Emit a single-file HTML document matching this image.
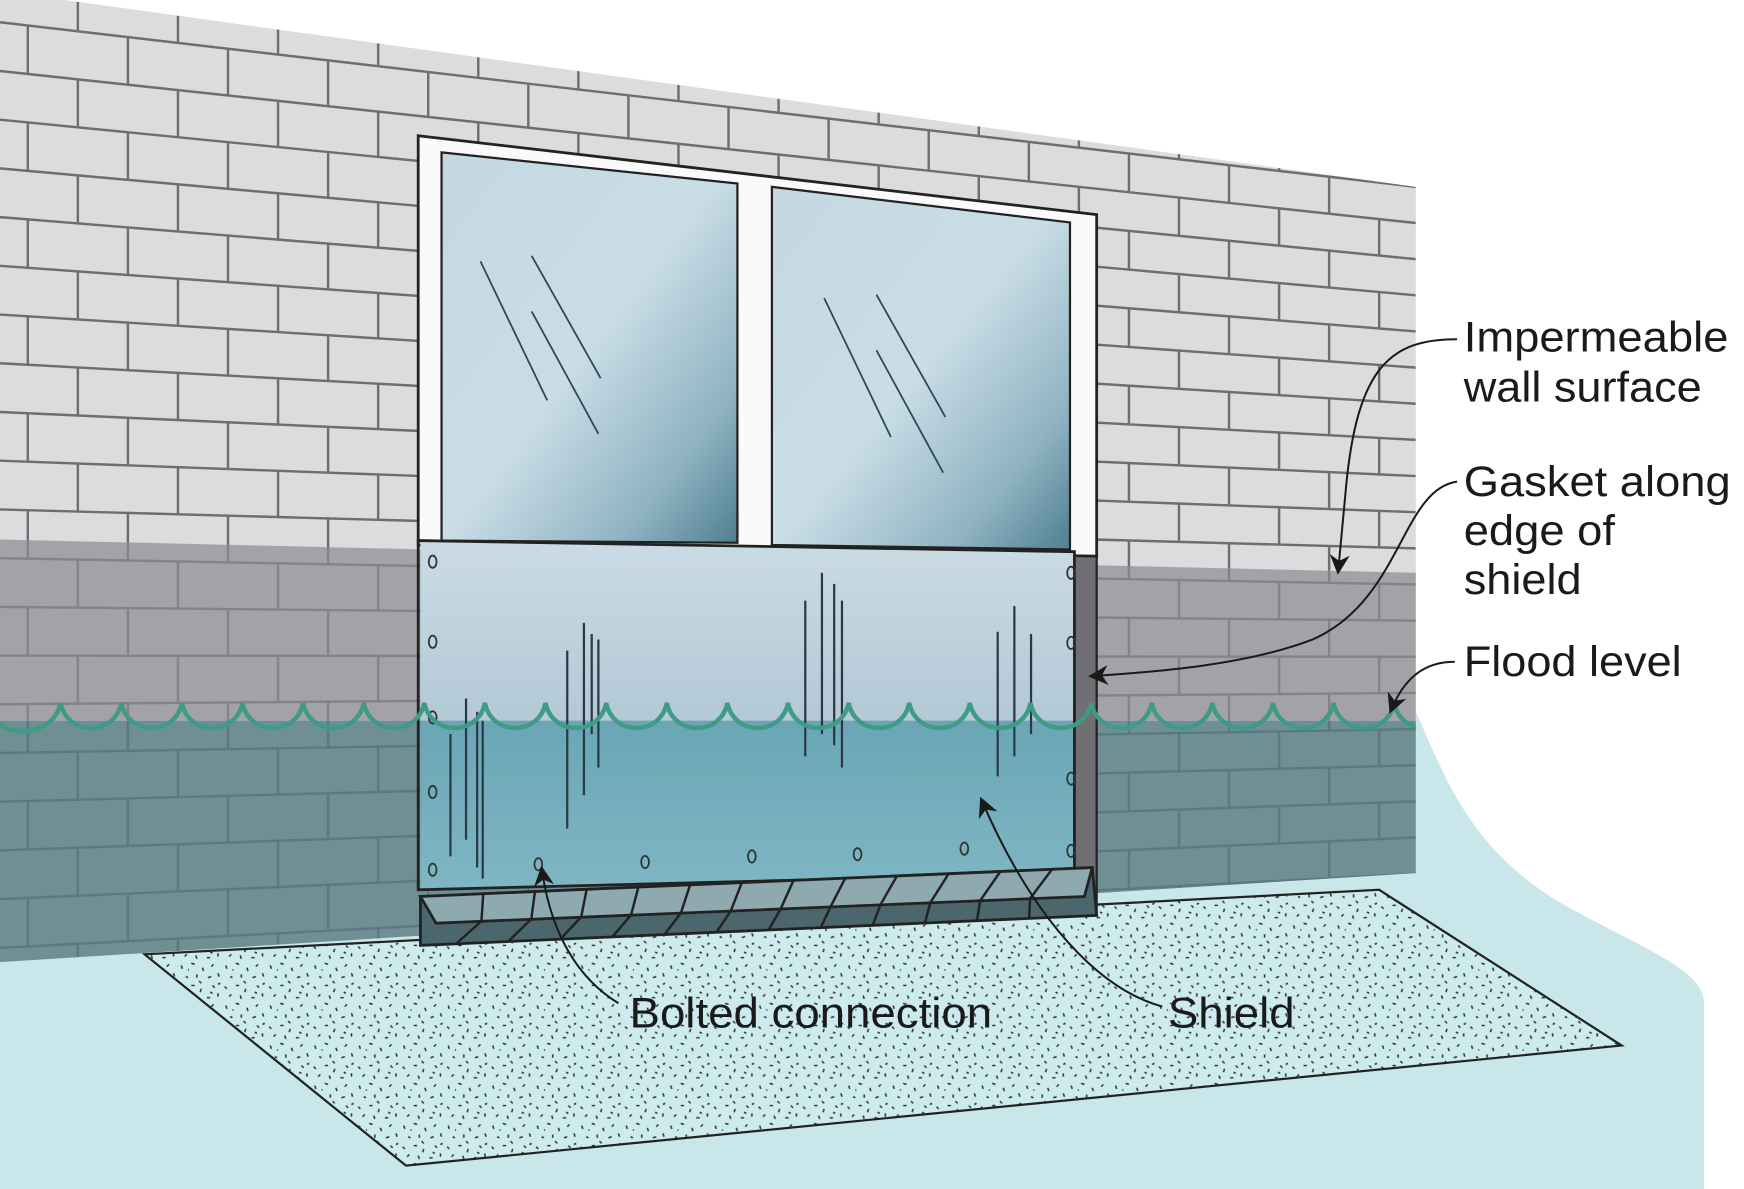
<!DOCTYPE html>
<html><head><meta charset="utf-8"><style>
html,body{margin:0;padding:0;background:#fff;}
svg{display:block}
text{font-family:"Liberation Sans",sans-serif;fill:#1a1a1a}
</style></head><body>
<svg id="s" width="1744" height="1189" viewBox="0 0 1568 1069" preserveAspectRatio="none" xmlns="http://www.w3.org/2000/svg">
<defs>
<clipPath id="wall"><polygon points="0,-8 1273,168 1273,785 0,865"/></clipPath>
<clipPath id="up"><polygon points="0,-8 1273,168 1273,515 0,485"/></clipPath>
<clipPath id="mid"><polygon points="0,485 1273,515 1273,648 0,648"/></clipPath>
<clipPath id="low"><polygon points="0,648 1273,648 1273,785 0,865"/></clipPath>
<clipPath id="flc"><rect x="0" y="600" width="1273" height="80"/></clipPath>
<linearGradient id="pane" x1="0" y1="0" x2="1" y2="1">
<stop offset="0" stop-color="#c5d8e2"/><stop offset="0.5" stop-color="#c9dde6"/><stop offset="0.8" stop-color="#8fb3c2"/><stop offset="1" stop-color="#4f7f90"/></linearGradient>
<linearGradient id="sh" x1="0" y1="0" x2="0" y2="1">
<stop offset="0" stop-color="#cbdbe6"/><stop offset="1" stop-color="#b3c9d6"/></linearGradient>
<linearGradient id="shw" x1="0" y1="0" x2="0" y2="1">
<stop offset="0" stop-color="#6aa6b6"/><stop offset="1" stop-color="#7fb6c4"/></linearGradient>
<pattern id="spk" width="40" height="36" patternUnits="userSpaceOnUse">
<rect width="40" height="36" fill="#cdeaec"/>
<g stroke="#333" stroke-width="1.4">
<path d="M3 4l1 3M12 2l3 1M22 6l1 3M32 3l-2 2M7 14l2 1M17 12l0 3M27 15l3 -1M36 11l1 3M2 23l2 2M12 22l3 0M21 25l-1 3M31 22l2 2M6 32l2 -2M16 31l1 3M26 33l3 0M36 29l0 3M9 8l1 0M29 28l2 1M19 18l2 2M38 20l-2 1"/></g></pattern>
<marker id="ah" viewBox="0 0 10 10" refX="9" refY="5" markerWidth="22" markerHeight="18" orient="auto-start-reverse" markerUnits="userSpaceOnUse"><path d="M0,0 L10,5 L0,10 L3,5z" fill="#1a1a1a"/></marker>
</defs>
<!-- ground -->
<path d="M0,860 L1273,780 L1273,640 C1300,700 1320,760 1400,810 C1470,850 1530,870 1532,900 L1532,1069 L0,1069Z" fill="#c9e7ea"/>
<!-- gravel pad -->
<polygon points="130,858 1240,800 1458,940 365,1048" fill="url(#spk)" stroke="#222" stroke-width="2"/>
<!-- wall fills -->
<g clip-path="url(#wall)">
<rect x="0" y="-10" width="1280" height="900" fill="#dcdcde"/>
<polygon points="0,485 1273,515 1273,648 0,648" fill="#a3a3a7"/>
<rect x="0" y="648" width="1280" height="240" fill="#6f8f95"/>
<g id="bu" clip-path="url(#up)" stroke="#6e6e72" stroke-width="2.2" fill="none"></g>
<g id="bm" clip-path="url(#mid)" stroke="#848488" stroke-width="2.2" fill="none"></g>
<g id="bl" clip-path="url(#low)" stroke="#587a80" stroke-width="2.2" fill="none"></g>
</g>
<!-- right dark strip -->
<polygon points="966,193 986,193 986,820 966,820" fill="#6f6f74" stroke="#222" stroke-width="2"/>
<!-- window frame -->
<polygon points="376,122 986,193 986,500 376,490" fill="#fafafa" stroke="#222" stroke-width="2.5"/>
<polygon points="397,137 663,165 663,488 397,486" fill="url(#pane)" stroke="#222" stroke-width="2"/>
<polygon points="694,168 962,200 962,494 694,490" fill="url(#pane)" stroke="#222" stroke-width="2"/>
<g stroke="#2a4a5a" stroke-width="1.6">
<line x1="432" y1="235" x2="492" y2="360"/><line x1="478" y1="230" x2="540" y2="340"/><line x1="478" y1="280" x2="538" y2="390"/>
<line x1="741" y1="268" x2="801" y2="393"/><line x1="788" y1="265" x2="850" y2="375"/><line x1="788" y1="315" x2="848" y2="425"/>
</g>
<!-- shield -->
<polygon points="378,486 966,496 966,648 378,648" fill="url(#sh)"/>
<polygon points="378,648 966,648 966,785 378,800" fill="url(#shw)"/>
<polygon points="376,486 966,496 966,785 376,800" fill="none" stroke="#222" stroke-width="2.5"/>
<g stroke="#2a3a44" stroke-width="2">
<line x1="419" y1="628" x2="419" y2="755"/><line x1="405" y1="660" x2="405" y2="770"/><line x1="429" y1="640" x2="429" y2="780"/><line x1="434" y1="648" x2="434" y2="790"/>
<line x1="510" y1="585" x2="510" y2="745"/><line x1="525" y1="560" x2="525" y2="715"/><line x1="532" y1="570" x2="532" y2="660"/><line x1="538" y1="575" x2="538" y2="690"/>
<line x1="724" y1="540" x2="724" y2="680"/><line x1="739" y1="515" x2="739" y2="660"/><line x1="750" y1="525" x2="750" y2="670"/><line x1="757" y1="540" x2="757" y2="690"/>
<line x1="897" y1="568" x2="897" y2="698"/><line x1="912" y1="545" x2="912" y2="680"/><line x1="927" y1="570" x2="927" y2="660"/>
</g>
<g fill="none" stroke="#333" stroke-width="1.6">
<ellipse cx="389" cy="505" rx="3.5" ry="5.5"/><ellipse cx="389" cy="577" rx="3.5" ry="5.5"/><ellipse cx="389" cy="645" rx="3.5" ry="5.5"/><ellipse cx="389" cy="712" rx="3.5" ry="5.5"/><ellipse cx="389" cy="782" rx="3.5" ry="5.5"/>
<ellipse cx="963" cy="515" rx="3.5" ry="5.5"/><ellipse cx="963" cy="578" rx="3.5" ry="5.5"/><ellipse cx="963" cy="700" rx="3.5" ry="5.5"/><ellipse cx="963" cy="765" rx="3.5" ry="5.5"/>
<ellipse cx="484" cy="777" rx="3.5" ry="5.5"/><ellipse cx="580" cy="775" rx="3.5" ry="5.5"/><ellipse cx="676" cy="770" rx="3.5" ry="5.5"/><ellipse cx="771" cy="768" rx="3.5" ry="5.5"/><ellipse cx="867" cy="763" rx="3.5" ry="5.5"/>
</g>
<!-- base block -->
<polygon points="378,806 982,780 986,823 378,850" fill="#4b666c" stroke="#222" stroke-width="2.5"/>
<polygon points="378,806 982,780 975,806 392,830" fill="#8eaab0" stroke="#222" stroke-width="2.5"/>
<g id="seg" stroke="#222" stroke-width="2.2"></g>
<!-- flood line -->
<path id="fl" fill="none" stroke="#3f9a86" stroke-width="4" clip-path="url(#flc)"/>
<!-- arrows -->
<g fill="none" stroke="#1a1a1a" stroke-width="1.8">
<path d="M1310,305 C1250,305 1220,330 1210,440 L1203,515" marker-end="url(#ah)"/>
<path d="M1310,433 C1260,440 1260,540 1180,575 C1120,598 1040,604 980,608" marker-end="url(#ah)"/>
<path d="M1308,595 C1280,595 1262,610 1250,640" marker-end="url(#ah)"/>
<path d="M556,902 C520,880 495,840 487,780" marker-end="url(#ah)"/>
<path d="M1045,905 C990,890 930,830 882,718" marker-end="url(#ah)"/>
</g>
<!-- labels -->
<g font-size="38" textLength="0">
<text x="1316" y="316" textLength="238" lengthAdjust="spacingAndGlyphs">Impermeable</text>
<text x="1316" y="361" textLength="214" lengthAdjust="spacingAndGlyphs">wall surface</text>
<text x="1316" y="446" textLength="240" lengthAdjust="spacingAndGlyphs">Gasket along</text>
<text x="1316" y="490" textLength="136" lengthAdjust="spacingAndGlyphs">edge of</text>
<text x="1316" y="534" textLength="106" lengthAdjust="spacingAndGlyphs">shield</text>
<text x="1316" y="608" textLength="196" lengthAdjust="spacingAndGlyphs">Flood level</text>
<text x="566" y="924" textLength="326" lengthAdjust="spacingAndGlyphs">Bolted connection</text>
<text x="1050" y="924" textLength="114" lengthAdjust="spacingAndGlyphs">Shield</text>
</g>
</svg>
<script>
(function(){
var NS="http://www.w3.org/2000/svg";
function ln(g,x1,y1,x2,y2){var l=document.createElementNS(NS,"line");l.setAttribute("x1",x1);l.setAttribute("y1",y1);l.setAttribute("x2",x2);l.setAttribute("y2",y2);g.appendChild(l);}
var gs=[document.getElementById("bu"),document.getElementById("bm"),document.getElementById("bl")];
function Y(i,x){var L=20+43.8*i,R=168+32.5*i;return L+(R-L)*x/1273;}
for(var k=0;k<3;k++){var g=gs[k];
 for(var i=-1;i<21;i++){
  ln(g,0,Y(i,0),1273,Y(i,1273));
  var off=(i%2===0)?25:70;
  for(var x=off;x<1273;x+=90){ln(g,x,Y(i,x),x,Y(i+1,x));}
 }}
var sg=document.getElementById("seg");
for(var j=1;j<13;j++){var t=j/13;
 var xt=378+(982-378)*t, yt=806+(780-806)*t;
 var xm=392+(975-392)*t, ym=830+(806-830)*t;
 var xb=378+(986-378)*t, yb=850+(823-850)*t;
 ln(sg,xt+10,yt,xm-4,ym);ln(sg,xm-4,ym,xb-14,yb);}
var w=54.5,p="M0,650";
for(var x=0;x<1273;x+=w){p+=" C"+(x+6)+",662 "+(x+w-6)+",662 "+(x+w)+",632";}
document.getElementById("fl").setAttribute("d",p);
})();
</script>
</body></html>
